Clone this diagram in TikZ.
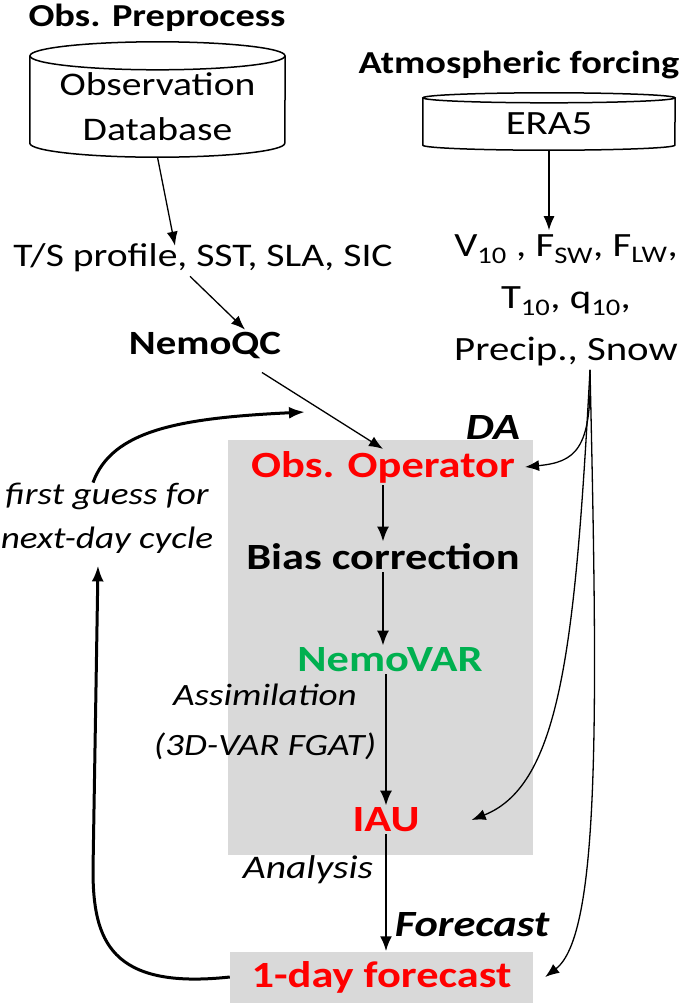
\documentclass[tikz,border=0pt]{standalone}
\usepackage{fontspec}
\setmainfont{Carlito}[FakeStretch=1.2]
\usetikzlibrary{arrows.meta,positioning}
\definecolor{dagray}{RGB}{217,217,217}
\definecolor{nvgreen}{RGB}{0,176,80}
\definecolor{opred}{RGB}{255,0,0}

\begin{document}
\begin{tikzpicture}[x=1pt, y=-1pt, hdr/.style={font=\fontsize{32}{36}\selectfont\bfseries, inner sep=0pt}, plain/.style={font=\fontsize{33}{45}\selectfont, inner sep=0pt, align=center}, dbbody/.style={inner sep=0pt, align=center, font=\fontsize{33}{45}\selectfont}, proc/.style={font=\fontsize{37}{44}\selectfont\bfseries, inner sep=2pt}, note/.style={font=\fontsize{31}{44}\selectfont\itshape, inner sep=0pt, align=center}, tag/.style={font=\fontsize{37}{44}\selectfont\bfseries\itshape, inner sep=0pt}, grayfill/.style={fill=dagray, inner sep=0pt}, arr/.style={-{Latex[length=14pt,width=11pt]}, line width=1.3pt}, flow/.style={-{Latex[length=15pt,width=12pt]}, line width=2.4pt}, loop/.style={-{Latex[length=16pt,width=12pt]}, line width=3pt}]
\useasboundingbox (0,0) rectangle (685,1005);
% sources
\node[hdr] (obshdr) at (157,18) {Obs. Preprocess};
\node[hdr] (atmhdr) at (519,65) {Atmospheric forcing};
\node[dbbody, minimum width=255pt, minimum height=101pt] (obsdb) at (157.5,106.5) {Observation\\Database};
\node[dbbody, minimum width=252pt, minimum height=52pt, font=\fontsize{34}{34}\selectfont] (era5) at (549,124) {\raisebox{-6pt}{ERA5}};
\draw[line width=1.5pt] (obsdb.north west) -- ([yshift=14pt]obsdb.south west) arc[start angle=180, end angle=360, x radius=127.5pt, y radius=14pt] -- (obsdb.north east);
\draw[line width=1.5pt] (obsdb.north) ellipse[x radius=127.5pt, y radius=14pt];
\draw[line width=1.5pt] (era5.north west) -- ([yshift=5pt]era5.south west) arc[start angle=180, end angle=360, x radius=126pt, y radius=5pt] -- (era5.north east);
\draw[line width=1.5pt] (era5.north) ellipse[x radius=126pt, y radius=5pt];
\node[plain] (tsprof) at (203,258) {T/S profile, SST, SLA, SIC};
\node[proc, font=\fontsize{34}{44}\selectfont\bfseries] (nemoqc) at (205,345) {NemoQC};
\node[plain, font=\fontsize{34}{52}\selectfont] (forcing) at (566,300) {V\textsubscript{10} , F\textsubscript{SW}, F\textsubscript{LW},\\T\textsubscript{10}, q\textsubscript{10},\\Precip., Snow};
% DA block
\node[grayfill, minimum width=305pt, minimum height=415pt] (dabox) at (380.5,647.5) {};
\node[proc, text=opred] (obsop) at (383,467) {Obs. Operator};
\node[proc] (bias) at (383,557) {Bias correction};
\node[proc, text=nvgreen] (nemovar) at (390,660) {NemoVAR};
\node[proc, text=opred] (iau) at (386,820) {IAU};
\node[grayfill, proc, text=opred, minimum width=303pt, minimum height=51pt, inner sep=0pt] (fcst) at (381.5,977) {1-day forecast};
\node[tag] (dalbl) at (493,427) {DA};
\node[tag] (fclbl) at (472,925) {Forecast};
\node[note] (fgnote) at (107,518) {first guess for\\next-day cycle};
\node[note, font=\fontsize{31}{50}\selectfont\itshape] (assim) at (265,722) {Assimilation\\(3D-VAR FGAT)};
\node[note, font=\fontsize{33}{44}\selectfont\itshape] (anal) at (308,870) {Analysis};
\coordinate (fgend) at (305,412);
\coordinate (fsrc) at ([xshift=24pt,yshift=-4pt]forcing.south);
% connectors
\draw[arr] (obsdb.south) -- ([xshift=-28pt,yshift=-2pt]tsprof.north);
\draw[arr] ([xshift=-13pt,yshift=-4pt]tsprof.south) -- ([xshift=40pt]nemoqc.north);
\draw[arr] ([xshift=57pt,yshift=-12pt]nemoqc.south) -- (obsop.north);
\draw[arr] (era5.south) -- ++(0,80);
\draw[flow] (obsop.south) -- (bias.north);
\draw[flow] (bias.south) -- (bias.south |- nemovar.north);
\draw[flow] (nemovar.south -| iau.north) -- (iau.north);
\draw[flow] (iau.south) -- (iau.south |- fcst.north);
\draw[loop] (fcst.west) .. controls (110,990) and (93,940) .. (93,870) -- ([xshift=-9pt,yshift=-12pt]fgnote.south);
\draw[loop] ([xshift=-14pt]fgnote.north) .. controls (112,430) and (180,418) .. (fgend);
\draw[arr] (fsrc) .. controls (592,450) and (575,462) .. ([xshift=8pt]obsop.east);
\draw[arr] (fsrc) .. controls (575,650) and (560,785) .. ([xshift=50pt]iau.east);
\draw[arr] (fsrc) .. controls (598,720) and (600,935) .. ([xshift=12pt]fcst.east);
\end{tikzpicture}
\end{document}
